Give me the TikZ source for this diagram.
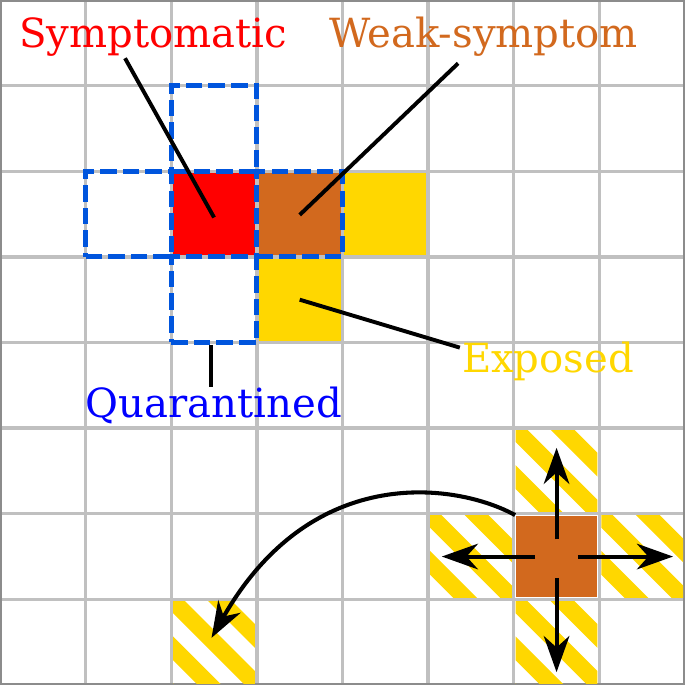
\documentclass[tikz,border=0pt]{standalone}
\usepackage{fontspec}
\setmainfont{DejaVu Serif}
\usetikzlibrary{arrows.meta,calc}
\definecolor{gridgray}{HTML}{C0C0C0}
\definecolor{framegray}{HTML}{8C8C8C}
\definecolor{symred}{HTML}{FF0000}
\definecolor{weakorange}{HTML}{D2691E}
\definecolor{expyellow}{HTML}{FFD700}
\definecolor{quarblue}{HTML}{0055DD}
\definecolor{labelblue}{HTML}{0000FF}
\tikzset{
  cellbox/.style={rectangle, minimum size=0.955cm, inner sep=0pt, draw=none},
  symcell/.style={cellbox, fill=symred},
  weakcell/.style={cellbox, fill=weakorange},
  expcell/.style={cellbox, fill=expyellow},
  hatchline/.style={draw=expyellow, line width=5.6pt},
  hatchcell/.style={cellbox, fill=white, path picture={
      \foreach \t in {-1.65,-1.1,-0.55,0,0.55,1.1,1.65}{
        \draw[hatchline] ([xshift=\t cm]path picture bounding box.center) ++(-1,1) -- ++(2,-2);
      }}},
  quarbox/.style={rectangle, minimum size=1cm, inner sep=0pt, draw=quarblue, line width=1.6pt, dash pattern=on 5.5pt off 2pt},
  leader/.style={draw=black, line width=1.3pt},
  spread/.style={-{Stealth[length=12pt, width=8.5pt, inset=3.8pt]}, line width=1.35pt},
  lbl/.style={font=\fontsize{13.35}{15}\selectfont, inner sep=0pt}
}
\begin{document}
\begin{tikzpicture}
\useasboundingbox (0,0) rectangle (8,8);
\fill[white] (0,0) rectangle (8,8);
% grid
\draw[gridgray, line width=1.15pt] (0,0) grid (8,8);
\draw[framegray, line width=1.2pt] (0,0) rectangle (8,8);

% upper cluster
\node[symcell] (sym) at (2.5,5.5) {};
\node[weakcell] (weak) at (3.5,5.5) {};
\node[expcell] (exp1) at (4.5,5.5) {};
\node[expcell] (exp2) at (3.5,4.5) {};

\node[quarbox] (q1) at (2.5,6.5) {};
\node[quarbox] (q2) at (1.5,5.5) {};
\node[quarbox] (q3) at (3.5,5.5) {};
\node[quarbox] (q4) at (2.5,4.5) {};

% labels
\node[lbl, text=symred, anchor=base] (symlab) at (1.79,7.44) {Symptomatic};
\node[lbl, text=weakorange, anchor=base] (weaklab) at (5.65,7.44) {Weak-symptom};
\node[lbl, text=expyellow, anchor=base] (explab) at (6.40,3.645) {Exposed};
\node[lbl, text=labelblue, anchor=base] (quarlab) at (2.50,3.12) {Quarantined};

\coordinate (symA) at (1.46,7.32);
\coordinate (weakA) at (5.35,7.26);
\coordinate (expA) at (5.37,3.94);

\draw[leader] (symA) -- ([yshift=-0.04cm]sym.center);
\draw[leader] (weakA) -- ([yshift=-0.01cm]weak.center);
\draw[leader] (exp2.center) -- (expA);
\draw[leader] ([xshift=-0.04cm]q4.south) -- ([xshift=-0.04cm]q4.south |- quarlab.north);

% lower right spreading
\node[weakcell] (wk2) at (6.5,1.5) {};
\node[hatchcell] (hup) at (6.5,2.5) {};
\node[hatchcell] (hleft) at (5.5,1.5) {};
\node[hatchcell] (hright) at (7.5,1.5) {};
\node[hatchcell] (hdown) at (6.5,0.5) {};
\node[hatchcell] (hfar) at (2.5,0.5) {};

\draw[spread] ([yshift=0.2cm]wk2.center) -- ([yshift=0.27cm]hup.center);
\draw[spread] ([xshift=-0.25cm]wk2.center) -- ([xshift=-0.34cm]hleft.center);
\draw[spread] ([xshift=0.25cm]wk2.center) -- ([xshift=0.36cm]hright.center);
\draw[spread] ([yshift=-0.25cm]wk2.center) -- ([yshift=-0.35cm]hdown.center);

\draw[spread] (wk2.north west) .. controls (5.35,2.35) and (3.65,2.62) .. ([xshift=-0.03cm,yshift=0.05cm]hfar.center);
\end{tikzpicture}
\end{document}
